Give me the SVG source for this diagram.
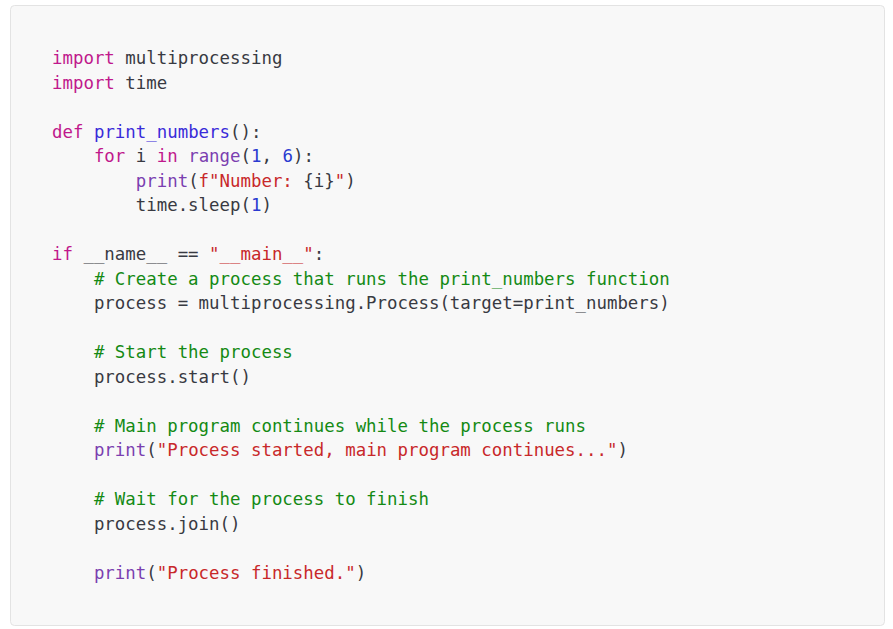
<svg xmlns="http://www.w3.org/2000/svg" width="893" height="629" viewBox="0 0 893 629">
<style>
text{font-family:"DejaVu Sans Mono","Liberation Mono",monospace;font-size:17.4px;fill:#383a42;white-space:pre}
.k{fill:#c0188c}.f{fill:#3a2bd9}.b{fill:#7b3fb0}.n{fill:#2a3ad0}.s{fill:#c8282a}.c{fill:#148a14}
</style>
<rect x="10.5" y="5.5" width="874" height="620" rx="4" fill="#f8f8f8" stroke="#e3e3e3"/>
<g id="code" xml:space="preserve">
<text x="52" y="64"><tspan class="k">import</tspan> multiprocessing</text>
<text x="52" y="89"><tspan class="k">import</tspan> time</text>
<text x="52" y="138"><tspan class="k">def</tspan> <tspan class="f">print_numbers</tspan>():</text>
<text x="52" y="162">    <tspan class="k">for</tspan> i <tspan class="k">in</tspan> <tspan class="b">range</tspan>(<tspan class="n">1</tspan>, <tspan class="n">6</tspan>):</text>
<text x="52" y="187">        <tspan class="b">print</tspan>(<tspan class="s">f"Number: </tspan>{i}<tspan class="s">"</tspan>)</text>
<text x="52" y="211">        time.sleep(<tspan class="n">1</tspan>)</text>
<text x="52" y="260"><tspan class="k">if</tspan> __name__ == <tspan class="s">"__main__"</tspan>:</text>
<text x="52" y="285">    <tspan class="c"># Create a process that runs the print_numbers function</tspan></text>
<text x="52" y="309">    process = multiprocessing.Process(target=print_numbers)</text>
<text x="52" y="358">    <tspan class="c"># Start the process</tspan></text>
<text x="52" y="383">    process.start()</text>
<text x="52" y="432">    <tspan class="c"># Main program continues while the process runs</tspan></text>
<text x="52" y="456">    <tspan class="b">print</tspan>(<tspan class="s">"Process started, main program continues..."</tspan>)</text>
<text x="52" y="505">    <tspan class="c"># Wait for the process to finish</tspan></text>
<text x="52" y="530">    process.join()</text>
<text x="52" y="579">    <tspan class="b">print</tspan>(<tspan class="s">"Process finished."</tspan>)</text>
</g>
</svg>
